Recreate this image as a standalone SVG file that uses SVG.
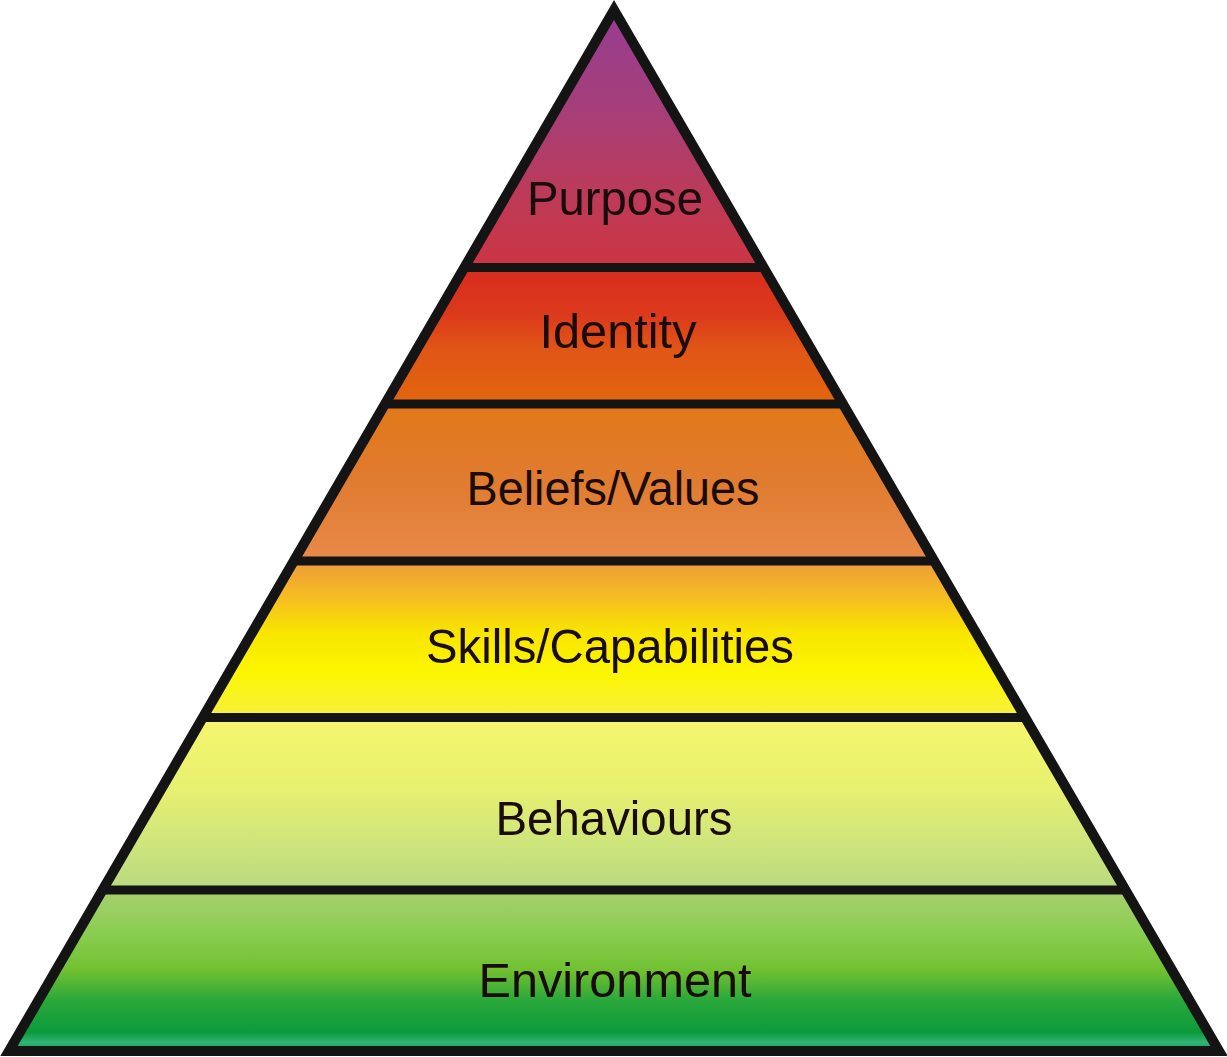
<svg xmlns="http://www.w3.org/2000/svg" width="1227" height="1057" viewBox="0 0 1227 1057">
  <defs>
    <clipPath id="tri"><polygon points="614,10 9,1051 1219,1051"/></clipPath>
    <linearGradient id="gPurpose" x1="0" y1="0" x2="0" y2="1">
      <stop offset="0" stop-color="#963c93"/>
      <stop offset="0.4" stop-color="#a53f7a"/>
      <stop offset="0.75" stop-color="#be3a56"/>
      <stop offset="1" stop-color="#cc3444"/>
    </linearGradient>
    <linearGradient id="gIdentity" x1="0" y1="0" x2="0" y2="1">
      <stop offset="0" stop-color="#d82c1e"/>
      <stop offset="0.35" stop-color="#dc3a1c"/>
      <stop offset="0.6" stop-color="#e05616"/>
      <stop offset="1" stop-color="#e2660e"/>
    </linearGradient>
    <linearGradient id="gBeliefs" x1="0" y1="0" x2="0" y2="1">
      <stop offset="0" stop-color="#e27818"/>
      <stop offset="0.5" stop-color="#e07c30"/>
      <stop offset="1" stop-color="#e88a4a"/>
    </linearGradient>
    <linearGradient id="gSkills" x1="0" y1="0" x2="0" y2="1">
      <stop offset="0" stop-color="#ee9a3a"/>
      <stop offset="0.25" stop-color="#f6c020"/>
      <stop offset="0.45" stop-color="#f8e400"/>
      <stop offset="0.7" stop-color="#fcf600"/>
      <stop offset="1" stop-color="#f6f040"/>
    </linearGradient>
    <linearGradient id="gBehaviours" x1="0" y1="0" x2="0" y2="1">
      <stop offset="0" stop-color="#f6f66c"/>
      <stop offset="0.4" stop-color="#e8f070"/>
      <stop offset="0.75" stop-color="#cce47c"/>
      <stop offset="1" stop-color="#b8da80"/>
    </linearGradient>
    <linearGradient id="gEnvironment" x1="0" y1="0" x2="0" y2="1">
      <stop offset="0" stop-color="#a8d070"/>
      <stop offset="0.3" stop-color="#86cc4c"/>
      <stop offset="0.5" stop-color="#70c030"/>
      <stop offset="0.68" stop-color="#2aa83a"/>
      <stop offset="0.88" stop-color="#0c9a3c"/>
      <stop offset="0.94" stop-color="#30b478"/>
      <stop offset="1" stop-color="#10a040"/>
    </linearGradient>
  </defs>
  <style>
    .lbl { font-family: "Liberation Sans", Arial, sans-serif; font-size: 49px; fill: #1a0c0c; text-anchor: middle; }
    .div { stroke: #141414; stroke-width: 9; fill: none; }
    .outline { stroke: #141414; stroke-width: 10; fill: none; stroke-linejoin: miter; stroke-miterlimit: 10; }
  </style>
  <rect width="1227" height="1057" fill="#ffffff"/>
  <g clip-path="url(#tri)">
    <g id="purpose">
      <rect x="0" y="0" width="1227" height="268" fill="url(#gPurpose)"/>
    </g>
    <g id="identity">
      <rect x="0" y="267" width="1227" height="138" fill="url(#gIdentity)"/>
    </g>
    <g id="beliefs">
      <rect x="0" y="404" width="1227" height="158" fill="url(#gBeliefs)"/>
    </g>
    <g id="skills">
      <rect x="0" y="561" width="1227" height="157" fill="url(#gSkills)"/>
    </g>
    <g id="behaviours">
      <rect x="0" y="717" width="1227" height="174" fill="url(#gBehaviours)"/>
    </g>
    <g id="environment">
      <rect x="0" y="890" width="1227" height="162" fill="url(#gEnvironment)"/>
    </g>
    <g id="dividers">
      <line class="div" x1="0" y1="267.5" x2="1227" y2="267.5"/>
      <line class="div" x1="0" y1="404" x2="1227" y2="404"/>
      <line class="div" x1="0" y1="561" x2="1227" y2="561"/>
      <line class="div" x1="0" y1="717.5" x2="1227" y2="717.5"/>
      <line class="div" x1="0" y1="890" x2="1227" y2="890"/>
    </g>
  </g>
  <polygon class="outline" points="614,10 9,1051 1219,1051"/>
  <g id="labels">
    <text class="lbl" x="615" y="215" textLength="176" lengthAdjust="spacingAndGlyphs">Purpose</text>
    <text class="lbl" x="618" y="348" textLength="157" lengthAdjust="spacingAndGlyphs">Identity</text>
    <text class="lbl" x="613" y="505" textLength="293" lengthAdjust="spacingAndGlyphs">Beliefs/Values</text>
    <text class="lbl" x="610" y="663" textLength="368" lengthAdjust="spacingAndGlyphs">Skills/Capabilities</text>
    <text class="lbl" x="614" y="835" textLength="237" lengthAdjust="spacingAndGlyphs">Behaviours</text>
    <text class="lbl" x="615" y="997" textLength="273" lengthAdjust="spacingAndGlyphs">Environment</text>
  </g>
</svg>
